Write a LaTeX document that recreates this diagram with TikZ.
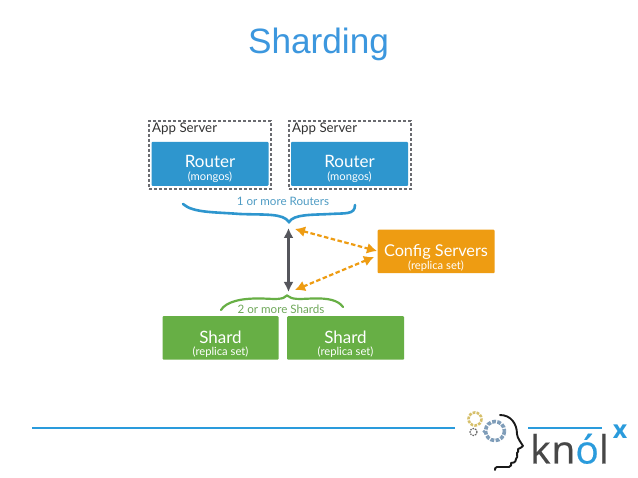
\documentclass[tikz,border=0pt]{standalone}
\usepackage{fontspec}
\setmainfont{Lato}
\newfontfamily\titlefont{Liberation Sans}
\newfontfamily\logofont[FakeBold=0.5,LetterSpace=2]{Open Sans}
\usetikzlibrary{arrows.meta}
\definecolor{titleblue}{HTML}{3C97DE}
\definecolor{routerblue}{HTML}{2E96CE}
\definecolor{shardgreen}{HTML}{67AF45}
\definecolor{cfgorange}{HTML}{EE9C12}
\definecolor{dashgray}{HTML}{6A6B70}
\definecolor{labelblue}{HTML}{4F9CC4}
\definecolor{labelgreen}{HTML}{6FA85A}
\definecolor{arrowgray}{HTML}{55565C}
\definecolor{linkblue}{HTML}{2A9BDC}
\definecolor{gearyellow}{HTML}{D6BF6A}
\definecolor{gearslate}{HTML}{7F9DB9}
\tikzset{
  x=1pt,y=-1pt,
  box/.style={draw=none,rounded corners=1pt,inner sep=0pt},
  appbox/.style={draw=dashgray,dash pattern=on 3pt off 2pt,line width=1.3pt,inner sep=0pt},
  big/.style={text=white,font=\fontsize{17}{18}\selectfont,inner sep=0pt},
  small/.style={text=white,font=\fontsize{11.2}{12}\selectfont,inner sep=0pt},
  apptext/.style={text=black!80,font=\fontsize{13.3}{14}\selectfont,inner sep=0pt,anchor=west},
  notetext/.style={font=\fontsize{11.6}{12}\selectfont,inner sep=0pt},
  dashedarrow/.style={draw=cfgorange,line width=2.2pt,dash pattern=on 4.5pt off 2.5pt,{Latex[length=10pt,width=11pt]}-{Latex[length=10pt,width=11pt]}},
  solidarrow/.style={draw=arrowgray,line width=2.5pt,{Latex[length=10pt,width=10pt]}-{Latex[length=10pt,width=10pt]}},
}
\begin{document}
\begin{tikzpicture}
\useasboundingbox (0,0) rectangle (638,478);
\fill[white] (0,0) rectangle (638,478);
\node[text=titleblue,font=\titlefont\fontsize{35.2}{38}\selectfont,inner sep=0pt] (title) at (318.5,44.5) {Sharding};
% App servers
\node[appbox,minimum width=122pt,minimum height=68pt] (app1) at (210,155) {};
\node[appbox,minimum width=122pt,minimum height=68pt] (app2) at (350,155) {};
\node[apptext] (applabel1) at (152,129) {App Server};
\node[apptext] (applabel2) at (292,129) {App Server};
% Routers
\node[box,fill=routerblue,minimum width=117pt,minimum height=44pt] (router1) at (210,164) {};
\node[box,fill=routerblue,minimum width=117pt,minimum height=44pt] (router2) at (349.5,164) {};
\node[big] (r1t) at (210,161) {Router};
\node[small] (r1s) at (210,177) {(mongos)};
\node[big] (r2t) at (349.5,161) {Router};
\node[small] (r2s) at (349.5,177) {(mongos)};
\node[notetext,text=labelblue] (routersnote) at (283,201.5) {1 or more Routers};
% brace top
\draw[routerblue,line width=2.6pt,line cap=round] (183,204) .. controls (193,213) and (215,212) .. (240,214)
  .. controls (265,215) and (283,213) .. (289,222)
  .. controls (294,214) and (312,215) .. (330,214)
  .. controls (345,213) and (355,215) .. (355,205);
% Config
\node[box,fill=cfgorange,minimum width=117pt,minimum height=43.5pt] (config) at (436,251.5) {};
\node[big,font=\fontsize{16.3}{18}\selectfont] (ct) at (436,251.5) {Config Servers};
\node[small] (cs) at (436,266) {(replica set)};
% arrows
\coordinate (atop) at (288.5,228);
\coordinate (abot) at (288.5,292);
\draw[solidarrow] (atop) -- (abot);
\coordinate (dtop) at (295,229);
\coordinate (dbot) at (295,290);
\coordinate (cfgl) at (377,251);
\coordinate (cfgr) at (374,257);
\draw[dashedarrow] (dtop) -- (cfgl);
\draw[dashedarrow] (dbot) -- (cfgr);
% brace bottom
\draw[shardgreen,line width=2.2pt,line cap=round] (221,310) .. controls (226,302) and (240,298) .. (262,298.5)
  .. controls (275,299) and (283,300) .. (287,295.5)
  .. controls (292,300) and (300,299) .. (312,298.5)
  .. controls (328,298) and (338,300) .. (343,307);
\node[notetext,text=labelgreen] (shardsnote) at (281,309) {2 or more Shards};
% Shards
\node[box,fill=shardgreen,minimum width=116pt,minimum height=43.5pt] (shard1) at (220.5,338) {};
\node[box,fill=shardgreen,minimum width=117pt,minimum height=43.5pt] (shard2) at (345.5,338) {};
\node[big] (s1t) at (220.5,337) {Shard};
\node[small] (s1s) at (220.5,352.5) {(replica set)};
\node[big] (s2t) at (345.5,337) {Shard};
\node[small] (s2s) at (345.5,352.5) {(replica set)};
% bottom rule
\coordinate (rulea) at (32,428);
\coordinate (ruleb) at (455,428);
\draw[linkblue,line width=2pt] (rulea) -- (ruleb);
\coordinate (rulec) at (528,428);
\coordinate (ruled) at (602,428);
\draw[linkblue,line width=1.8pt] (rulec) -- (ruled);
% logo gears
\draw[draw=gearyellow,line width=2.6pt,dash pattern=on 2.8pt off 1.2pt] (475,419) circle (6.5);
\draw[draw=gray!80!black,line width=1.2pt,dash pattern=on 1.5pt off 1pt] (473.5,432) circle (3.5);
\draw[draw=gearslate,line width=3.6pt,dash pattern=on 3.8pt off 1.4pt] (495,431) circle (9.5);
\fill[gearslate] (484,431.5) circle (1.6);
% logo head
\draw[black!90,line width=1.9pt,line cap=round,line join=round]
  (500,415) .. controls (511,415) and (517,424) .. (517,434)
  .. controls (517,438) and (522,444) .. (523,446)
  .. controls (522,448) and (519,448) .. (518,449)
  .. controls (519,451) and (518,452) .. (517,453)
  .. controls (518,456) and (517,458) .. (516,459)
  .. controls (516,463) and (512,463) .. (511,463)
  .. controls (512,464) and (511,467) .. (509,467)
  -- (497,467) .. controls (495,467) and (495,469) .. (495,470);
% logo text
\node[font=\logofont\fontsize{39}{40}\selectfont,text=black!72,inner sep=0pt,anchor=base west] (knol) at (530,463.5) {kn\textcolor{linkblue}{ó}l};
\node[font=\fontspec{Open Sans}\bfseries\fontsize{25}{25}\selectfont,text=linkblue,inner sep=0pt] (logox) at (620,432) {x};
\end{tikzpicture}
\end{document}
